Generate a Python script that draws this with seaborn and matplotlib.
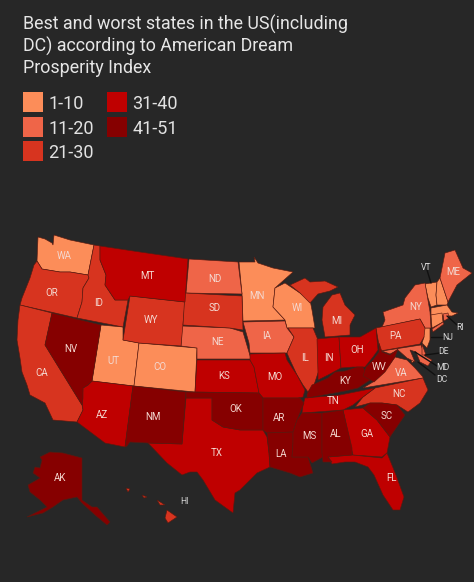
import pandas as pd
import matplotlib.pyplot as plt
import seaborn as sns

# state outlines, (x, y) in image pixels
WA = [(38,237),(45,239),(52,243),(53,245),(54,235),(70,240),(94,245),(88,275),(70,272),(60,272),(48,270),(42,269),(37,261)]
OR = [(37,261),(42,269),(48,270),(60,272),(70,272),(88,275),(89,278),(83,288),(82,302),(77,318),(20,305),(22,298),(30,278),(34,265)]
CA = [(20,305),(52,313),(45,345),(82,405),(83,410),(77,422),(53,420),(45,403),(30,395),(27,385),(22,372),(20,358),(17,340),(18,320)]
NV = [(52,313),(101,325),(92,381),(88,385),(83,388),(83,398),(82,405),(45,345)]
ID = [(94,245),(100,246),(100,260),(106,275),(105,285),(115,300),(128,300),(123,327),(77,318),(82,302),(83,288),(89,278),(88,275)]
MT = [(100,246),(140,252),(188,259),(185,302),(130,296),(128,300),(115,300),(105,285),(106,275),(100,260)]
WY = [(130,296),(185,302),(181,346),(139,343),(123,340)]
UT = [(101,325),(123,327),(123,340),(139,343),(134,386),(92,381)]
CO = [(139,343),(197,348),(195,392),(134,386)]
AZ = [(92,381),(133,386),(125,447),(105,443),(77,422),(83,410),(82,402),(83,388),(88,385)]
NM = [(133,386),(186,392),(182,444),(148,443),(130,442),(127,446),(125,447)]
TX = [(186,398),(212,398),(212,420),(223,427),(240,430),(263,430),(267,437),(269,453),(270,467),(257,473),(240,490),(235,493),(233,513),(215,500),(203,480),(197,472),(190,472),(182,475),(167,463),(148,443),(182,444)]
OK = [(186,392),(259,393),(263,398),(263,430),(240,430),(223,427),(212,420),(212,398),(186,398)]
KS = [(197,360),(250,360),(254,367),(259,393),(195,392)]
NE = [(182,326),(230,328),(243,332),(251,359),(197,359),(197,348),(181,346)]
SD = [(185,293),(242,296),(243,330),(230,328),(183,325)]
ND = [(189,259),(238,262),(242,294),(186,293)]
MN = [(239,262),(255,262),(254,257),(258,263),(273,268),(293,272),(275,288),(273,307),(285,320),(243,321),(242,294)]
IA = [(243,322),(285,321),(287,328),(294,337),(287,353),(250,353),(249,343)]
MO = [(250,354),(285,353),(287,360),(297,375),(305,390),(303,397),(298,398),(263,398),(259,393),(254,367),(250,360)]
AR = [(263,398),(300,398),(304,403),(297,420),(293,432),(267,433),(263,430)]
LA = [(267,433),(293,432),(293,443),(292,457),(308,457),(313,473),(300,477),(290,473),(270,467),(269,453)]
MS = [(302,413),(322,413),(322,453),(323,457),(312,463),(308,457),(292,457),(293,443),(293,432),(297,420)]
AL = [(322,413),(343,410),(352,448),(352,455),(328,457),(332,462),(323,462),(322,453)]
TN = [(305,398),(340,395),(375,388),(363,397),(353,405),(343,410),(302,413),(303,405)]
KY = [(307,394),(312,385),(328,378),(335,372),(345,371),(357,367),(363,367),(370,380),(358,388),(345,391),(307,398)]
WI = [(275,288),(285,283),(300,293),(310,300),(312,310),(315,328),(287,328),(285,320),(273,307)]
MI_UP = [(290,285),(305,278),(310,282),(325,281),(338,287),(330,291),(318,294),(310,303),(300,293)]
MI_LP = [(322,320),(323,307),(332,295),(340,293),(345,305),(355,315),(350,325),(350,335),(325,337)]
IL = [(288,328),(313,328),(318,340),(319,370),(314,385),(308,392),(303,385),(297,375),(290,360),(287,353),(294,337)]
IN = [(317,339),(339,337),(341,368),(328,375),(318,380),(318,373)]
OH = [(339,337),(360,337),(376,328),(378,350),(373,357),(365,367),(353,367),(341,368)]
PA = [(376,328),(420,319),(425,328),(424,337),(420,344),(380,351)]
NY = [(383,312),(403,305),(405,298),(415,285),(425,283),(430,312),(431,328),(425,328),(420,319),(382,327),(385,320)]
LI = [(432,329),(443,322),(444,324),(433,332)]
WV = [(379,343),(382,352),(390,355),(398,349),(395,357),(385,372),(374,382),(363,376),(366,367),(373,360),(379,352)]
VA = [(363,388),(373,382),(383,373),(395,357),(407,360),(415,368),(423,377),(423,378)]
NC = [(375,388),(423,378),(428,390),(420,403),(408,412),(397,405),(382,403),(370,403),(355,407),(363,397)]
SC = [(363,408),(370,403),(382,403),(397,405),(405,415),(390,437),(377,420)]
GA = [(343,410),(363,408),(377,420),(390,437),(387,453),(382,457),(353,455),(350,443)]
FL = [(328,457),(352,455),(382,458),(387,453),(396,475),(404,497),(400,510),(393,510),(383,495),(374,475),(368,467),(355,462),(345,462),(332,464)]
VT = [(425,284),(437,282),(436,295),(437,305),(431,307),(428,298)]
NH = [(437,282),(440,278),(448,302),(447,305),(437,305),(436,295)]
ME = [(440,278),(445,253),(455,250),(463,268),(472,273),(457,285),(448,302)]
MA = [(431,308),(447,305),(452,312),(458,313),(452,316),(431,315)]
CT = [(431,315),(442,313),(443,322),(432,328)]
RI = [(443,314),(448,313),(449,318),(444,321)]
NJ = [(421,328),(430,328),(430,340),(427,348),(422,343),(424,337)]
DE = [(422,344),(426,355),(422,355)]
MD = [(382,351),(421,345),(425,356),(432,360),(428,366),(420,362),(416,352),(410,350),(415,362),(407,358),(398,350),(390,354)]
DC = [(411,359),(414,361),(412,363)]
AK = [(40,457),(50,452),(63,453),(82,458),(82,500),(92,507),(97,507),(110,522),(107,525),(95,515),(82,503),(77,497),(63,500),(53,507),(43,513),(27,517),(47,507),(40,500),(30,492),(28,485),(40,478),(33,473),(35,467),(40,468),(42,460)]
HI_1 = [(167,510),(177,517),(168,523),(165,518)]
HI_2 = [(157,500),(165,505),(160,505)]
HI_3 = [(142,495),(147,497),(144,498)]
HI_4 = [(126,488),(130,489),(128,492)]

outlines = {'WA': [WA], 'OR': [OR], 'CA': [CA], 'NV': [NV], 'ID': [ID], 'MT': [MT], 'WY': [WY], 'UT': [UT],
            'CO': [CO], 'AZ': [AZ], 'NM': [NM], 'TX': [TX], 'OK': [OK], 'KS': [KS], 'NE': [NE], 'SD': [SD],
            'ND': [ND], 'MN': [MN], 'IA': [IA], 'MO': [MO], 'AR': [AR], 'LA': [LA], 'MS': [MS], 'AL': [AL],
            'TN': [TN], 'KY': [KY], 'WI': [WI], 'MI': [MI_UP, MI_LP], 'IL': [IL], 'IN': [IN], 'OH': [OH],
            'PA': [PA], 'NY': [NY, LI], 'WV': [WV], 'VA': [VA], 'NC': [NC], 'SC': [SC], 'GA': [GA], 'FL': [FL],
            'VT': [VT], 'NH': [NH], 'ME': [ME], 'MA': [MA], 'CT': [CT], 'RI': [RI], 'NJ': [NJ], 'DE': [DE],
            'MD': [MD], 'DC': [DC], 'AK': [AK], 'HI': [HI_1, HI_2, HI_3, HI_4]}

tier_names = ['1-10', '11-20', '21-30', '31-40', '41-51']
tier_colors = ['#fc8d59', '#ef6548', '#d7341f', '#bf0000', '#860000']
tier_1 = ['WA', 'UT', 'CO', 'MN', 'WI', 'VT', 'NH', 'MA', 'CT', 'NJ', 'DC']
tier_2 = ['ND', 'NE', 'IA', 'NY', 'ME', 'VA', 'RI', 'MD', 'DE']
tier_3 = ['OR', 'CA', 'ID', 'WY', 'SD', 'IL', 'MI', 'PA', 'NC', 'HI']
tier_4 = ['MT', 'AZ', 'TX', 'KS', 'MO', 'IN', 'OH', 'GA', 'FL', 'TN']
tier_5 = ['NV', 'NM', 'OK', 'AR', 'LA', 'MS', 'AL', 'KY', 'WV', 'SC', 'AK']
tiers = [tier_1, tier_2, tier_3, tier_4, tier_5]

label_names = ['WA','OR','ID','MT','WY','NV','UT','CO','CA','AZ','NM','ND','SD','NE','MN','IA','WI','IL','KS','MO','OK','AR','TX','LA','MS','AL','TN','KY','GA','SC','NC','VA','WV','OH','IN','MI','PA','NY','ME','FL','AK']
label_x = [64,52,99,147,151,71,113,160,42,102,153,215,215,218,257,267,297,305,224,275,236,279,217,281,309,336,333,345,367,387,399,401,379,357,329,337,396,416,453,391,60]
label_y = [256,293,303,276,320,349,361,367,373,415,417,279,308,342,296,336,308,358,376,377,409,418,453,454,436,434,401,381,434,416,394,373,367,350,358,321,336,307,272,478,478]

# small states labelled outside the map, with a leader line
side_names = ['VT', 'RI', 'NJ', 'DE', 'MD', 'DC', 'HI']
side_x = [426, 460, 448, 444, 443, 442, 184]
side_y = [267, 328, 338, 351, 368, 379, 501]
leader_x0 = [427, 457, 443, 440, 437, 435]
leader_y0 = [270, 325, 337, 353, 366, 375]
leader_x1 = [431, 447, 431, 425, 415, 418]
leader_y1 = [283, 316, 337, 355, 352, 362]

title = 'Best and worst states in the US(including\nDC) according to American Dream\nProsperity Index'
bg = '#272727'

sns.set_theme(style='dark', rc={'figure.facecolor': bg, 'axes.facecolor': bg})
plt.rcParams['font.family'] = ['Roboto', 'DejaVu Sans']

fig = plt.figure(figsize=(4.74, 5.82), dpi=100)
ax = fig.add_axes([0, 0, 1, 1])
ax.set_xlim(0, 474)
ax.set_ylim(582, 0)
ax.axis('off')

for names, color in zip(tiers, tier_colors):
    for name in names:
        for shape in outlines[name]:
            xs, ys = zip(*shape)
            ax.fill(xs, ys, facecolor=color, edgecolor='#5a1a10', linewidth=0.45, zorder=2)

# leader lines go through seaborn as one little table per line
for i in range(len(leader_x0)):
    leader = pd.DataFrame({'x': [leader_x0[i], leader_x1[i]], 'y': [leader_y0[i], leader_y1[i]]})
    sns.lineplot(data=leader, x='x', y='y', color='#111111', linewidth=1, sort=False, estimator=None, ax=ax, zorder=3)

for name, x, y in zip(label_names, label_x, label_y):
    ax.text(x, y, name, color='#f4d8d0', fontsize=7, ha='center', va='center', zorder=4)
for name, x, y in zip(side_names, side_x, side_y):
    ax.text(x, y, name, color='#d8d8d8', fontsize=6.2, ha='center', va='center', zorder=4)

# legend swatches
legend_x = [33, 33, 33, 117, 117]
legend_y = [102, 127, 151, 102, 127]
swatches = pd.DataFrame({'x': legend_x, 'y': legend_y, 'tier': tier_names})
sns.scatterplot(data=swatches, x='x', y='y', hue='tier', palette=dict(zip(tier_names, tier_colors)),
                marker='s', s=205, linewidth=0, legend=False, ax=ax, zorder=3)
for name, x, y in zip(tier_names, legend_x, legend_y):
    ax.text(x + 15.5, y, name, color='#e2e2e2', fontsize=13, va='center_baseline', zorder=4)

ax.text(23, 14.5, title, color='#e6e6e6', fontsize=12.9, va='top', linespacing=1.22, zorder=4)
ax.set_xlabel('')
ax.set_ylabel('')

plt.savefig('out.png', dpi=100, facecolor=bg)
